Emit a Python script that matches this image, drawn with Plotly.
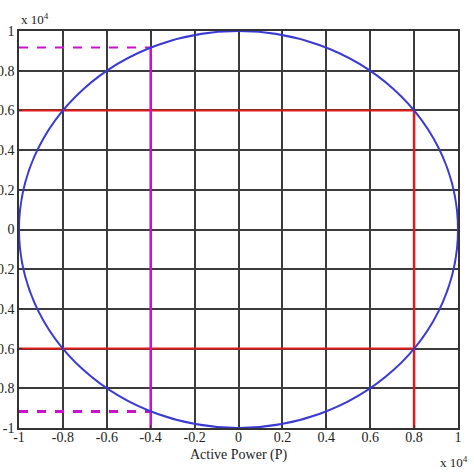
import plotly.graph_objects as go

# ---- data (units of 1e4) ----
radius = 1.0
tick_vals = [-1, -0.8, -0.6, -0.4, -0.2, 0, 0.2, 0.4, 0.6, 0.8, 1]
tick_text = ["-1", "-0.8", "-0.6", "-0.4", "-0.2", "0", "0.2", "0.4", "0.6", "0.8", "1"]

red_h_y = [0.6, -0.6]          # horizontal red limits
red_h_x = [-1, 0.8]
red_v_x = [0.8, 0.8]           # vertical red limit
red_v_y = [-1, 0.6]

mag_v_x = [-0.4, -0.4]         # vertical magenta
mag_v_y = [-1, 0.917]
mag_h_y = [0.917, -0.917]      # horizontal magenta
mag_h_x = [-1, -0.4]

RED = "#e31a1c"
MAG = "#cc11cc"
BLUE = "#3a3ad2"

fig = go.Figure()

for y in red_h_y:
    fig.add_trace(go.Scatter(x=red_h_x, y=[y, y], mode="lines",
                             line=dict(color=RED, width=2), hoverinfo="skip"))
fig.add_trace(go.Scatter(x=red_v_x, y=red_v_y, mode="lines",
                         line=dict(color=RED, width=2.5), hoverinfo="skip"))
fig.add_trace(go.Scatter(x=mag_v_x, y=mag_v_y, mode="lines",
                         line=dict(color=MAG, width=2.5), hoverinfo="skip"))
fig.add_trace(go.Scatter(x=mag_h_x, y=[mag_h_y[0]] * 2, mode="lines",
                         line=dict(color=MAG, width=2, dash="dash"), hoverinfo="skip"))
fig.add_trace(go.Scatter(x=mag_h_x, y=[mag_h_y[1]] * 2, mode="lines",
                         line=dict(color=MAG, width=3, dash="dash"), hoverinfo="skip"))

fig.add_shape(type="circle", xref="x", yref="y",
              x0=-radius, y0=-radius, x1=radius, y1=radius,
              line=dict(color=BLUE, width=2), layer="above")

axis_common = dict(
    range=[-1, 1], tickvals=tick_vals, ticktext=tick_text,
    showgrid=True, gridcolor="#3c3c3c", gridwidth=1.5,
    zeroline=False, showline=True, linecolor="#333333", linewidth=1.5,
    mirror="ticks", ticks="inside", ticklen=3, tickcolor="#333333",
    automargin=False,
    tickfont=dict(family="Liberation Serif", size=14, color="#222222"),
)

fig.update_layout(
    width=474, height=474,
    margin=dict(l=19, r=16, t=31, b=46),
    paper_bgcolor="white", plot_bgcolor="white",
    showlegend=False,
    font=dict(family="Liberation Serif", size=14, color="#222222"),
    xaxis=dict(**axis_common, ticklabelstandoff=-5),
    yaxis=dict(**axis_common),
    annotations=[
        dict(text="Active Power (P)", xref="paper", yref="paper",
             x=0.5, y=0, xanchor="center", yanchor="middle", yshift=-27,
             showarrow=False, font=dict(family="Liberation Serif", size=14)),
        dict(text="x 10<sup>4</sup>", xref="paper", yref="paper",
             x=0, y=1, xanchor="left", yanchor="bottom", yshift=2, xshift=0,
             showarrow=False, font=dict(family="Liberation Serif", size=13)),
        dict(text="x 10<sup>4</sup>", xref="paper", yref="paper",
             x=1, y=0, xanchor="right", yanchor="top", yshift=-24, xshift=12,
             showarrow=False, font=dict(family="Liberation Serif", size=13)),
    ],
)

fig.write_html("out.html", config={"displayModeBar": False},
               post_script="document.body.style.margin='0';document.body.style.overflow='hidden';")
